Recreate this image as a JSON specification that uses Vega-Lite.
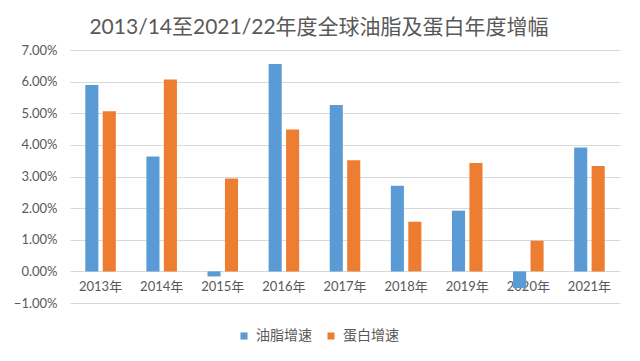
{
  "$schema": "https://vega.github.io/schema/vega-lite/v6.json",
  "autosize": "none",
  "width": 550,
  "height": 253,
  "padding": {"left": 70, "top": 50, "right": 20, "bottom": 58},
  "background": "white",
  "title": {
    "text": "2013/14至2021/22年度全球油脂及蛋白年度增幅",
    "fontSize": 21,
    "font": "Lato, Noto Sans CJK SC",
    "fontWeight": "normal",
    "color": "#595959",
    "anchor": "middle",
    "dx": -26,
    "offset": 6
  },
  "config": {
    "view": {"stroke": null},
    "font": "Lato, Noto Sans CJK SC"
  },
  "data": {
    "values": [
      {"year": "2013年", "series": "油脂增速", "value": 0.0589},
      {"year": "2013年", "series": "蛋白增速", "value": 0.0506},
      {"year": "2014年", "series": "油脂增速", "value": 0.0363},
      {"year": "2014年", "series": "蛋白增速", "value": 0.0607},
      {"year": "2015年", "series": "油脂增速", "value": -0.0016},
      {"year": "2015年", "series": "蛋白增速", "value": 0.0294},
      {"year": "2016年", "series": "油脂增速", "value": 0.0656},
      {"year": "2016年", "series": "蛋白增速", "value": 0.0449},
      {"year": "2017年", "series": "油脂增速", "value": 0.0526},
      {"year": "2017年", "series": "蛋白增速", "value": 0.0351},
      {"year": "2018年", "series": "油脂增速", "value": 0.0271},
      {"year": "2018年", "series": "蛋白增速", "value": 0.0157},
      {"year": "2019年", "series": "油脂增速", "value": 0.0192},
      {"year": "2019年", "series": "蛋白增速", "value": 0.0343},
      {"year": "2020年", "series": "油脂增速", "value": -0.0053},
      {"year": "2020年", "series": "蛋白增速", "value": 0.0097},
      {"year": "2021年", "series": "油脂增速", "value": 0.0392},
      {"year": "2021年", "series": "蛋白增速", "value": 0.0333}
    ]
  },
  "mark": {"type": "bar"},
  "encoding": {
    "x": {
      "field": "year",
      "type": "nominal",
      "sort": null,
      "title": null,
      "scale": {"paddingInner": 0.5, "paddingOuter": 0.25},
      "axis": {
        "offset": -32,
        "zindex": 0,
        "domain": false,
        "ticks": false,
        "labelAngle": 0,
        "labelFontSize": 13,
        "labelColor": "#595959",
        "labelPadding": 9
      }
    },
    "xOffset": {
      "field": "series",
      "type": "nominal",
      "sort": ["油脂增速", "蛋白增速"],
      "scale": {"paddingInner": 0.25, "paddingOuter": 0}
    },
    "y": {
      "field": "value",
      "type": "quantitative",
      "title": null,
      "scale": {"domain": [-0.01, 0.07], "nice": false, "zero": false},
      "axis": {
        "values": [-0.01, 0, 0.01, 0.02, 0.03, 0.04, 0.05, 0.06, 0.07],
        "format": ".2%",
        "zindex": 0,
        "domain": false,
        "ticks": false,
        "gridColor": "#d9d9d9",
        "labelFontSize": 13,
        "labelColor": "#595959",
        "labelPadding": 13
      }
    },
    "color": {
      "field": "series",
      "type": "nominal",
      "title": null,
      "scale": {"domain": ["油脂增速", "蛋白增速"], "range": ["#5B9BD5", "#ED7D31"]},
      "legend": {
        "orient": "none",
        "direction": "horizontal",
        "legendX": 167,
        "legendY": 279,
        "padding": 0,
        "symbolType": "square",
        "symbolSize": 50,
        "symbolStrokeWidth": 0,
        "labelFontSize": 14,
        "labelColor": "#595959",
        "labelOffset": 5,
        "columnPadding": 12
      }
    }
  }
}
